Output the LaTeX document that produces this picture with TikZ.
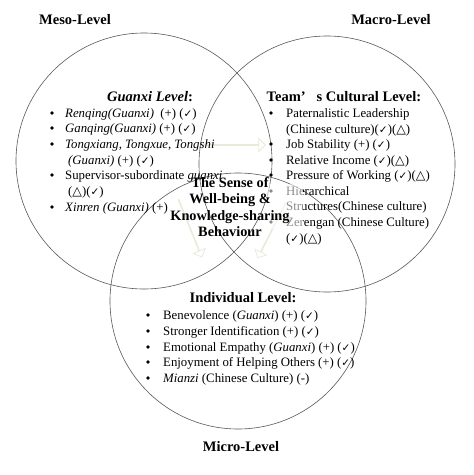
\documentclass[tikz,border=0pt]{standalone}
\usepackage{fontspec}
\setmainfont{Liberation Serif}
\newfontfamily\symf{DejaVu Sans}
\usetikzlibrary{shapes.arrows}
\definecolor{faint}{RGB}{234,234,218}
\newcommand{\ck}{{\symf\fontsize{10.5}{10.5}\selectfont ✓}}
\newcommand{\tri}{{\symf\fontsize{12.5}{12.5}\selectfont △}}
\tikzset{
  circ/.style={circle, draw=black!65, line width=0.6pt, minimum size=256pt, inner sep=0pt},
  lvl/.style={font=\fontsize{14.5}{16}\selectfont\bfseries, inner sep=0pt},
  itm/.style={font=\fontsize{12.8}{15}\selectfont, anchor=base west, inner sep=0pt},
  bul/.style={circle, fill=black, inner sep=0pt, minimum size=3.6pt},
  farrow/.style={single arrow, draw=faint, line width=0.8pt, inner sep=0pt,
    minimum width=11pt, single arrow head extend=6pt}
}
\begin{document}
\begin{tikzpicture}[x=1pt, y=-1pt]
\path[use as bounding box, fill=white] (0,0) rectangle (474,475);

% faint arrows
\node[farrow, minimum height=62pt] (fa1) at (234,145) {};
\node[farrow, minimum height=62pt, rotate=-68] (fa2) at (190,228) {};
\node[farrow, minimum height=62pt, rotate=-117] (fa3) at (272,230) {};

% circles
\node[circ] (meso) at (144,161) {};
\node[circ] (macro) at (327,164) {};
\node[circ] (micro) at (238,301) {};

% level labels
\node[lvl] (mesol) at (75,20) {Meso-Level};
\node[lvl] (macrol) at (391,20) {Macro-Level};
\node[lvl] (microl) at (241,447) {Micro-Level};

% Guanxi level
\node[lvl] (gh) at (150,97) {\textit{Guanxi Level}:};
\node[bul] (gb1) at (52,113) {};
\node[bul] (gb2) at (52,128) {};
\node[bul] (gb3) at (52,144) {};
\node[bul] (gb4) at (52,175) {};
\node[bul] (gb5) at (52,207) {};
\node[itm] (g1) at (65,117.5) {\textit{Renqing(Guanxi)}\ \ (+) (\ck)};
\node[itm] (g2) at (65,132.5) {\textit{Ganqing(Guanxi)} (+) (\ck)};
\node[itm] (g3) at (65,148.5) {\textit{Tongxiang, Tongxue, Tongshi}};
\node[itm] (g3b) at (68,164.5) {\textit{(Guanxi)} (+) (\ck)};
\node[itm] (g4) at (65,179.5) {Supervisor-subordinate \textit{guanxi}};
\node[itm] (g4b) at (68,195.5) {(\tri)(\ck)};
\node[itm] (g5) at (65,211.5) {\textit{Xinren (Guanxi)} (+)};

% Team's cultural level
\node[lvl] (th) at (344,97) {Team’\hspace{0.75em}s Cultural Level:};
\node[bul] (tb1) at (271,113) {};
\node[bul] (tb2) at (271,144) {};
\node[bul] (tb3) at (271,160) {};
\node[bul] (tb4) at (271,175) {};
\node[bul] (tb5) at (271,191) {};
\node[bul] (tb6) at (271,222) {};
\node[itm] (t1) at (286,117.5) {Paternalistic Leadership};
\node[itm] (t1b) at (286,133) {(Chinese culture)(\ck)(\tri)};
\node[itm] (t2) at (286,148.5) {Job Stability (+) (\ck)};
\node[itm] (t3) at (286,164) {Relative Income (\ck)(\tri)};
\node[itm] (t4) at (286,179.5) {Pressure of Working (\ck)(\tri)};
\node[itm] (t5) at (286,195.5) {Hierarchical};
\node[itm] (t5b) at (286,210.5) {Structures(Chinese culture)};
\node[itm] (t6) at (286,226.5) {Zerengan (Chinese Culture)};
\node[itm] (t6b) at (286,242.5) {(\ck)(\tri)};
\fill[white, opacity=0.55] (265,184) rectangle (303,229);

% Individual level
\node[lvl] (ih) at (243,298) {Individual Level:};
\node[bul] (ib1) at (148,315) {};
\node[bul] (ib2) at (148,331) {};
\node[bul] (ib3) at (148,347) {};
\node[bul] (ib4) at (148,362) {};
\node[bul] (ib5) at (148,378) {};
\node[itm] (i1) at (163,319.5) {Benevolence (\textit{Guanxi}) (+) (\ck)};
\node[itm] (i2) at (163,335.5) {Stronger Identification (+) (\ck)};
\node[itm] (i3) at (163,351.5) {Emotional Empathy (\textit{Guanxi}) (+) (\ck)};
\node[itm] (i4) at (163,366.5) {Enjoyment of Helping Others (+) (\ck)};
\node[itm] (i5) at (163,382.5) {\textit{Mianzi} (Chinese Culture) (-)};

% centre
\node[font=\fontsize{14.3}{16.3}\selectfont\bfseries, align=center, inner sep=0pt] (core) at (230,207)
  {The Sense of\\Well-being \&\\Knowledge-sharing\\Behaviour};
\end{tikzpicture}
\end{document}
